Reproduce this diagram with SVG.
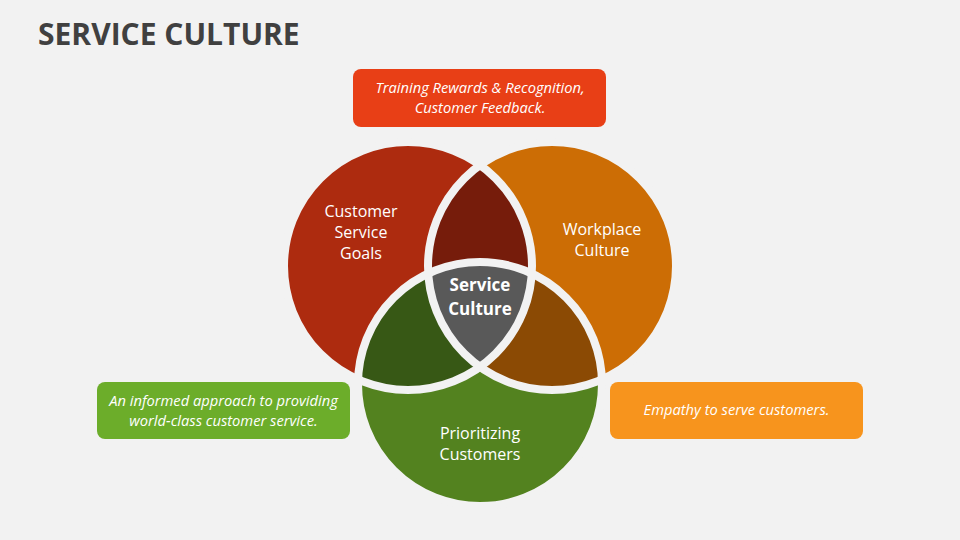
<svg xmlns="http://www.w3.org/2000/svg" width="960" height="540" viewBox="0 0 960 540">
<style>
.title{font-family:"Open Sans","Liberation Sans",sans-serif;font-weight:bold;font-size:30px;fill:#404040}
.lbl{font-family:"Open Sans","Liberation Sans",sans-serif;font-size:16px;fill:#ffffff;text-anchor:middle}
.ctr{font-family:"Open Sans","Liberation Sans",sans-serif;font-size:17px;font-weight:bold;fill:#ffffff;text-anchor:middle}
.note{font-family:"Open Sans","Liberation Sans",sans-serif;font-size:14.7px;font-style:italic;fill:#ffffff;text-anchor:middle}
.gap{fill:none;stroke:#f2f2f2;stroke-width:8}
</style>
<defs>
<clipPath id="cR"><circle cx="408" cy="266" r="124"/></clipPath>
<clipPath id="cO"><circle cx="552" cy="266" r="124"/></clipPath>
<clipPath id="cG"><circle cx="480" cy="384" r="122"/></clipPath>
</defs>
<rect width="960" height="540" fill="#f2f2f2"/>
<text class="title" x="38" y="45">SERVICE CULTURE</text>

<g id="goals">
<circle cx="408" cy="266" r="124" fill="#ad2b0f"/>
</g>
<g id="workplace">
<circle cx="552" cy="266" r="124" fill="#cc6d05"/>
</g>
<g id="prioritizing">
<circle cx="480" cy="384" r="122" fill="#53821f"/>
</g>
<g id="lens-red-orange">
<circle cx="552" cy="266" r="124" fill="#761c0b" clip-path="url(#cR)"/>
</g>
<g id="lens-red-green">
<circle cx="480" cy="384" r="122" fill="#375815" clip-path="url(#cR)"/>
</g>
<g id="lens-orange-green">
<circle cx="480" cy="384" r="122" fill="#8b4a04" clip-path="url(#cO)"/>
</g>
<g id="service-culture">
<g clip-path="url(#cR)"><circle cx="480" cy="384" r="122" fill="#595959" clip-path="url(#cO)"/></g>
</g>

<g id="connectors">
<circle class="gap" cx="408" cy="266" r="124"/>
<circle class="gap" cx="552" cy="266" r="124"/>
<circle class="gap" cx="480" cy="384" r="122"/>
</g>

<g id="goals-label">
<text class="lbl" x="361" y="217">Customer</text>
<text class="lbl" x="361" y="238">Service</text>
<text class="lbl" x="361" y="259">Goals</text>
</g>
<g id="workplace-label">
<text class="lbl" x="602" y="235">Workplace</text>
<text class="lbl" x="602" y="256">Culture</text>
</g>
<g id="prioritizing-label">
<text class="lbl" x="480" y="439">Prioritizing</text>
<text class="lbl" x="480" y="460">Customers</text>
</g>
<g id="center-label">
<text class="ctr" x="480" y="291">Service</text>
<text class="ctr" x="480" y="315">Culture</text>
</g>

<g id="note-top">
<rect x="353" y="69" width="253" height="58" rx="8" fill="#e83f16"/>
<text class="note" x="480" y="93">Training Rewards &amp; Recognition,</text>
<text class="note" x="480" y="113">Customer Feedback.</text>
</g>
<g id="note-left">
<rect x="97" y="382" width="253" height="57" rx="8" fill="#6cad2a"/>
<text class="note" x="223.5" y="406">An informed approach to providing</text>
<text class="note" x="223.5" y="426">world-class customer service.</text>
</g>
<g id="note-right">
<rect x="610" y="382" width="253" height="57" rx="8" fill="#f7941d"/>
<text class="note" x="736.5" y="415">Empathy to serve customers.</text>
</g>
</svg>
